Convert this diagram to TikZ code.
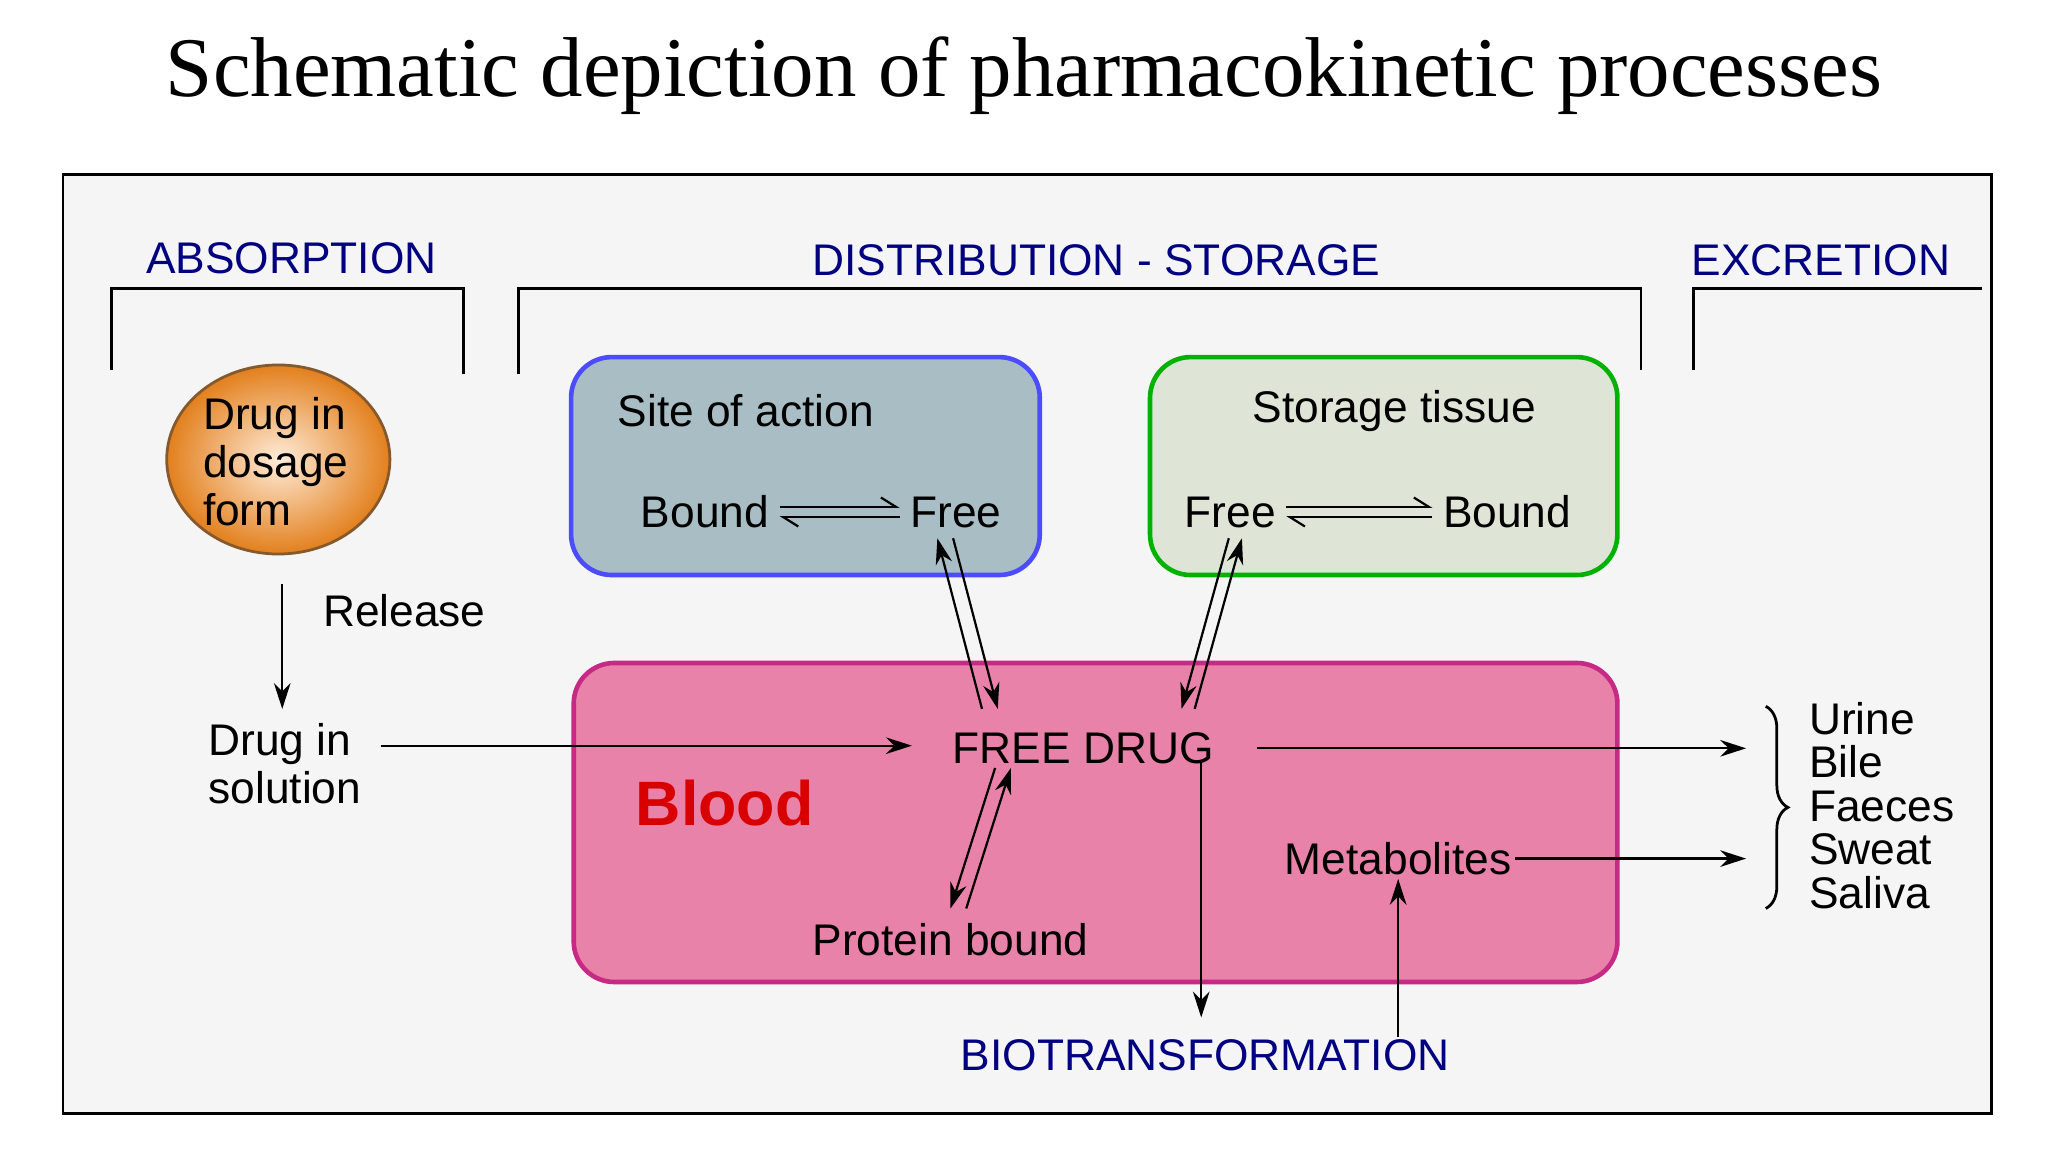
\documentclass[tikz,border=0pt]{standalone}
\usepackage{fontspec}
\setmainfont{Liberation Sans}
\newfontfamily\titlefont{Liberation Serif}
\usetikzlibrary{arrows.meta, positioning, calc, shapes.geometric, decorations.pathreplacing}
\definecolor{bloodfill}{RGB}{232,130,168}
\definecolor{siteFill}{RGB}{168,190,196}
\definecolor{storeFill}{RGB}{222,228,214}

\begin{document}
\begin{tikzpicture}[
    x=0.25mm, y=-0.25mm,
    lbl/.style={font=\fontsize{24}{26}\selectfont, align=left, inner sep=2pt},
    head/.style={font=\fontsize{24}{26}\selectfont, text=blue!50!black},
    box/.style={rounded corners=22pt, line width=2.5pt},
    arrow/.style={line width=1.2pt, -{Stealth[length=14pt, width=9pt]}},
    harp/.style={line width=1.2pt, -{Straight Barb[left, length=8pt, width=10pt]}},
    bracket/.style={line width=1.5pt}
]
\useasboundingbox (0,0) rectangle (1560,878);

% Title
\node[font=\titlefont\fontsize{46}{50}\selectfont] (title) at (780,58) {Schematic depiction of pharmacokinetic processes};

% Frame
\draw[fill=gray!8, line width=1.5pt] (48,133) rectangle (1517,848);

% Headings and brackets
\node[head] (absorption) at (222,197) {ABSORPTION};
\node[head] (distribution) at (835,198) {DISTRIBUTION - STORAGE};
\node[head] (excretion) at (1387,198) {EXCRETION};
\draw[bracket] (85,282) |- (353,220) -- (353,285);
\draw[bracket] (395,285) |- (1250,220) -- (1250,282);
\draw[bracket] (1290,282) |- (1510,220);

% Dosage form
\node[ellipse, draw=brown!70!black, line width=1.5pt, inner color=orange!15, outer color=orange!55!brown,
      minimum width=42.5mm, minimum height=36mm, inner sep=0pt] (dosage) at (212,350) {};
\node[lbl] (dosagetxt) at (210,352) {Drug in\\dosage\\form};

% Compartments
\draw[box, draw=blue!70, fill=siteFill] (435,272) rectangle (792,438);
\draw[box, draw=green!70!black, fill=storeFill] (876,272) rectangle (1232,438);
\draw[box, draw=magenta!80!black, fill=bloodfill] (437,505) rectangle (1232,748);

\node[lbl] (site) at (568,313) {Site of action};
\node[lbl] (sbound) at (537,390) {Bound};
\node[lbl] (sfree) at (728,390) {Free};
\node[lbl] (storage) at (1062,313) {Storage tissue};
\node[lbl] (tfree) at (937,390) {Free};
\node[lbl] (tbound) at (1148,390) {Bound};
\node[font=\fontsize{34}{38}\selectfont\bfseries, text=red!85!black] (blood) at (552,612) {Blood};
\node[lbl] (free) at (825,570) {FREE DRUG};
\node[lbl] (protein) at (724,716) {Protein bound};
\node[lbl] (metab) at (1065,654) {Metabolites};
\node[lbl] (release) at (308,465) {Release};
\node[lbl] (solution) at (217,582) {Drug in\\solution};
\node[head] (biotrans) at (918,804) {BIOTRANSFORMATION};
\node[lbl, anchor=north west, font=\fontsize{24}{23.5}\selectfont] (excr) at (1375,532) {Urine\\Bile\\Faeces\\Sweat\\Saliva};

% Equilibria
\draw[harp] ($(sbound.east)+(5,-4)$) -- ($(sfree.west)+(-5,-4)$);
\draw[harp] ($(sfree.west)+(-5,4)$) -- ($(sbound.east)+(5,4)$);
\draw[harp] ($(tfree.east)+(5,-4)$) -- ($(tbound.west)+(-5,-4)$);
\draw[harp] ($(tbound.west)+(-5,4)$) -- ($(tfree.east)+(5,4)$);

% Exchange between compartments
\coordinate (s1) at (726,410); \coordinate (s2) at (760,540);
\coordinate (t1) at (936,410); \coordinate (t2) at (900,540);
\coordinate (p1) at (758,585); \coordinate (p2) at (724,692);
\draw[arrow] (s1) -- (s2);
\draw[arrow] ($(s2)+(-12,0)$) -- ($(s1)+(-12,0)$);
\draw[arrow] (t1) -- (t2);
\draw[arrow] ($(t2)+(10,0)$) -- ($(t1)+(10,0)$);
\draw[arrow] (p1) -- (p2);
\draw[arrow] ($(p2)+(12,0)$) -- ($(p1)+(12,0)$);

% Flows
\coordinate (relA) at (215,445); \coordinate (relB) at (215,540);
\draw[arrow] (relA) -- (relB);
\coordinate (solE) at (290,568);
\draw[arrow] (solE) -- ($(free.west)+(-28,-2)$);
\coordinate (ex1) at (1330,570); \coordinate (ex2) at (1330,657);
\draw[arrow] ($(free.east)+(30,0)$) -- (ex1);
\draw[arrow] (metab.east) -- (metab.east -| ex2);
\draw[line width=1.5pt, decorate, decoration={brace, amplitude=12pt}] (1345,538) -- (1345,692);
\coordinate (bioA) at (915,580); \coordinate (bioB) at (915,775);
\draw[arrow] (bioA) -- (bioB);
\coordinate (upA) at (1065,790);
\draw[arrow] (upA) -- (metab.south);
\end{tikzpicture}
\end{document}
